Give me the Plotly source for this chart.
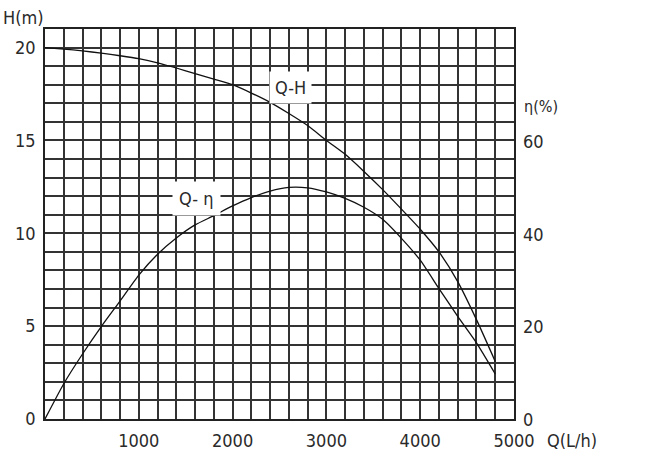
import plotly.graph_objects as go

# ---- data ----
q_flow = [0, 200, 400, 600, 800, 1000, 1200, 1400, 1600, 1800, 2000, 2200, 2400,
          2600, 2800, 3000, 3200, 3400, 3600, 3800, 4000, 4200, 4400, 4600, 4800]
head_m = [20.0, 19.92, 19.82, 19.7, 19.56, 19.4, 19.18, 18.9, 18.6, 18.3, 18.0, 17.55, 17.05,
          16.45, 15.8, 15.0, 14.25, 13.33, 12.35, 11.3, 10.22, 9.0, 7.4, 5.35, 3.1]
eff_pct = [0, 7.6, 14.0, 19.9, 25.4, 31.0, 35.5, 39.0, 41.8, 43.8, 45.9, 47.7, 49.1,
           49.9, 49.8, 48.9, 47.5, 45.6, 43.0, 38.9, 34.2, 28.1, 22.1, 16.4, 9.7]
x_ticks = [1000, 2000, 3000, 4000, 5000]
h_ticks = [0, 5, 10, 15, 20]
eta_ticks = [0, 20, 40, 60]

FONT = "Liberation Sans Narrow, DejaVu Sans Condensed, Arial Narrow, Roboto, sans-serif"
TXT = "#2a2a2a"
GRID = "#333333"
FS = 18

fig = go.Figure()
fig.add_trace(go.Scatter(x=q_flow, y=head_m, mode="lines",
                         line=dict(color="#111", width=1.3, shape="spline", smoothing=0.6),
                         showlegend=False, hoverinfo="skip"))
fig.add_trace(go.Scatter(x=q_flow, y=eff_pct, mode="lines", yaxis="y2",
                         line=dict(color="#111", width=1.3, shape="spline", smoothing=0.6),
                         showlegend=False, hoverinfo="skip"))

grid_style = dict(showgrid=True, gridcolor=GRID, gridwidth=1.6)

fig.update_layout(
    width=650, height=463,
    margin=dict(l=45, r=136, t=29, b=39),
    paper_bgcolor="white", plot_bgcolor="white",
    font=dict(family=FONT, color=TXT, size=FS),
    xaxis=dict(range=[0, 5000], tickvals=x_ticks, ticks="", zeroline=False,
               showline=True, mirror=True, linecolor="#222", linewidth=1.6,
               minor=dict(dtick=200, tick0=0, **grid_style), **grid_style,
               tickfont=dict(size=FS), ticklabelstandoff=5),
    yaxis=dict(range=[0, 21], tickvals=h_ticks, ticks="", zeroline=False,
               showline=True, mirror=True, linecolor="#222", linewidth=1.6,
               minor=dict(dtick=1, tick0=0, **grid_style), **grid_style,
               tickfont=dict(size=FS), ticklabelstandoff=4),
    yaxis2=dict(range=[0, 84], tickvals=eta_ticks, overlaying="y", side="right",
                showgrid=False, zeroline=False, ticks="", tickfont=dict(size=FS),
                ticklabelstandoff=8, ticklabelshift=1),
)

ann = dict(showarrow=False, xanchor="center", yanchor="middle",
           font=dict(family=FONT, color=TXT, size=FS))
fig.add_annotation(x=2612, y=17.86, xref="x", yref="y", text="Q-H", bgcolor="white",
                   borderpad=5, **ann)
fig.add_annotation(x=1610, y=11.86, xref="x", yref="y", text="Q- η", bgcolor="white",
                   borderpad=6, **ann)
fig.add_annotation(x=-0.045, y=1.03, xref="paper", yref="paper", text="H(m)", **ann)
fig.add_annotation(x=1.124, y=-0.055, xref="paper", yref="paper", text="Q(L/h)", **ann)
fig.add_annotation(x=1.058, y=0.80, xref="paper", yref="paper", text="η(%)",
                   showarrow=False, xanchor="center", yanchor="middle",
                   font=dict(family=FONT, color=TXT, size=16))

fig.write_html("out.html", config={"displayModeBar": False},
               post_script="document.body.style.margin='0px';")
